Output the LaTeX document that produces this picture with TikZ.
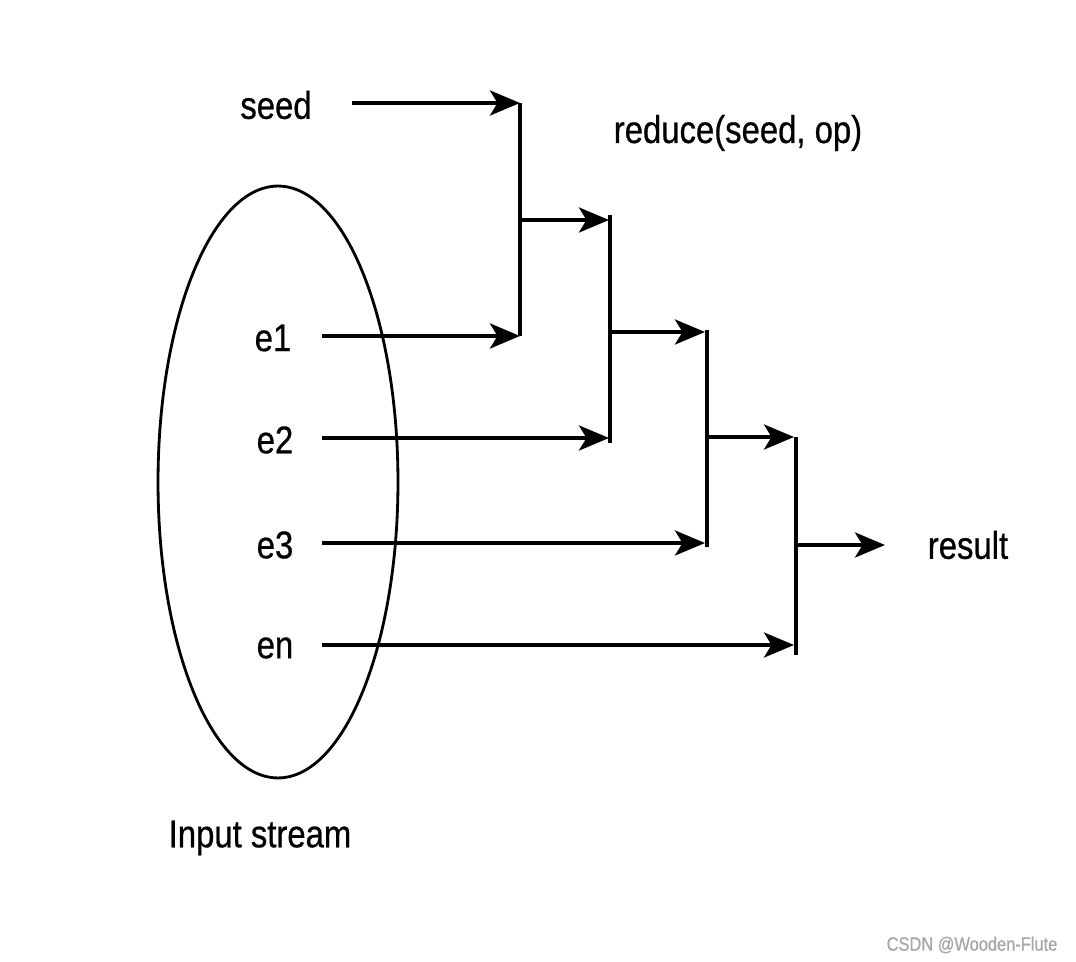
\documentclass[tikz,border=0pt]{standalone}
\usepackage{fontspec}
\setmainfont[FakeStretch=0.85,FakeBold=0.6]{Liberation Sans}
\usetikzlibrary{arrows.meta,shapes.geometric}
\begin{document}
\begin{tikzpicture}[x=0.02cm,y=-0.02cm,
  arr/.style={line width=2.2pt,-{Stealth[length=0.6cm,width=0.5cm,inset=0.15cm]}},
  bar/.style={line width=2.2pt},
  lbl/.style={font=\fontsize{22}{26}\selectfont,inner sep=0pt}]
\useasboundingbox[fill=white] (0,0) rectangle (1076,962);
\node[lbl] (seed) at (276,105) {seed};
\node[lbl] (e1) at (273,338) {e1};
\node[lbl] (e2) at (275,440) {e2};
\node[lbl] (e3) at (275,545) {e3};
\node[lbl] (en) at (275,648) {en};
\node[lbl] (res) at (968,545) {result};
\node[lbl] (red) at (738,133) {reduce(seed, op)};
\node[lbl] (inp) at (260,838) {Input stream};
\node[font=\fontsize{11}{13}\selectfont,text=gray!70,inner sep=0pt] (wm) at (972,945) {CSDN @Wooden-Flute};
\node[draw,line width=1.6pt,ellipse,minimum width=4.8cm,minimum height=11.84cm,inner sep=0pt] (ell) at (278,482) {};
% bars
\coordinate (b1t) at (520,103); \coordinate (b1b) at (520,336);
\coordinate (b2t) at (610,215); \coordinate (b2b) at (610,443);
\coordinate (b3t) at (707,330); \coordinate (b3b) at (707,547);
\coordinate (b4t) at (796,437); \coordinate (b4b) at (796,655);
\draw[bar] (b1t)--(b1b); \draw[bar] (b2t)--(b2b);
\draw[bar] (b3t)--(b3b); \draw[bar] (b4t)--(b4b);
% arrows
\draw[arr] (352,103) -- (b1t);
\draw[arr] (322,336) -- (b1b);
\draw[arr] (520,220) -- (609,220);
\draw[arr] (322,438) -- (609,438);
\draw[arr] (610,332) -- (705,332);
\draw[arr] (322,543) -- (705,543);
\draw[arr] (707,437) -- (794,437);
\draw[arr] (322,645) -- (794,645);
\draw[arr] (796,545) -- (885,545);
\end{tikzpicture}
\end{document}
